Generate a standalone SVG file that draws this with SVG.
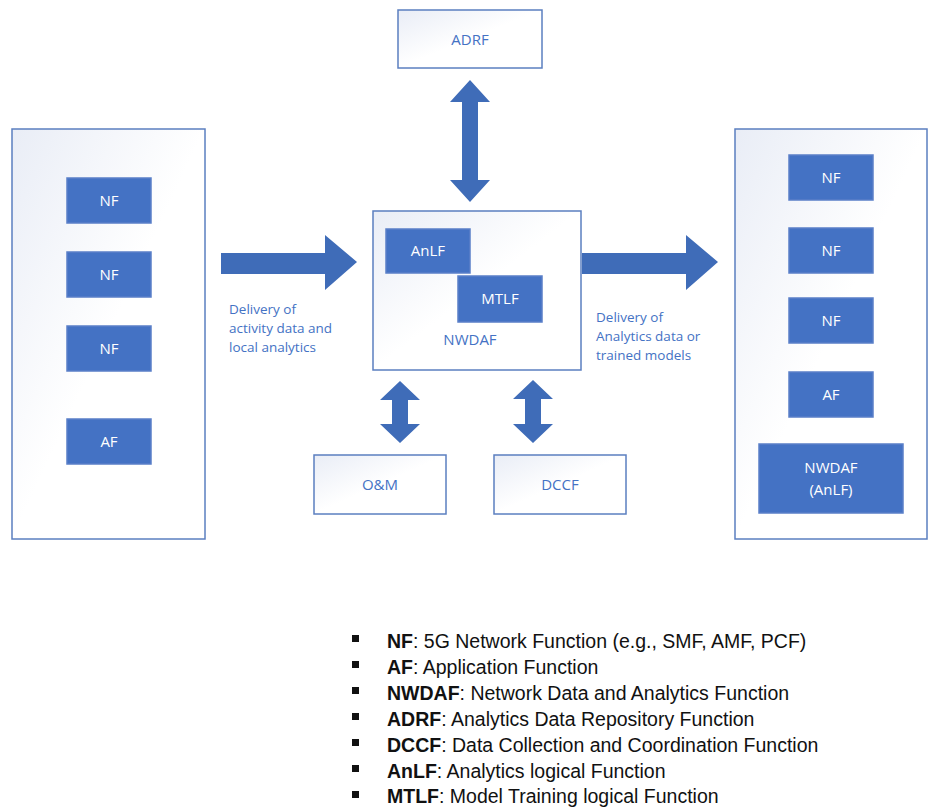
<svg xmlns="http://www.w3.org/2000/svg" width="931" height="807" viewBox="0 0 931 807">
<style>
.c{stroke:#5B7FC0;stroke-width:1.5;fill:url(#g)}
.b{fill:#4472C4;stroke:#5A7FC8;stroke-width:1.5}
.bt{font-family:"Open Sans","Liberation Sans",sans-serif;font-size:15px;fill:#fff;text-anchor:middle}
.lt{font-family:"Open Sans","Liberation Sans",sans-serif;font-size:15px;fill:#4472C4;text-anchor:middle}
.dl{font-family:"Open Sans","Liberation Sans",sans-serif;font-size:13.5px;fill:#4472C4}
.lg{font-family:"Liberation Sans",sans-serif;font-size:19.5px;fill:#111}
.ar{fill:#3F6CB8}
</style>
<defs>
<linearGradient id="g" x1="0" y1="0" x2="1" y2="1"><stop offset="0" stop-color="#E9EDF6"/><stop offset="0.5" stop-color="#FFFFFF"/><stop offset="1" stop-color="#FFFFFF"/></linearGradient>
</defs>
<rect width="931" height="807" fill="#fff"/>
<g id="left">
<rect class="c" x="12" y="129" width="193" height="410"/>
<rect class="b" x="67" y="178" width="84" height="45"/><text class="bt" x="109" y="206">NF</text>
<rect class="b" x="67" y="252" width="84" height="45"/><text class="bt" x="109" y="280">NF</text>
<rect class="b" x="67" y="326" width="84" height="45"/><text class="bt" x="109" y="354">NF</text>
<rect class="b" x="67" y="419" width="84" height="45"/><text class="bt" x="109" y="447">AF</text>
</g>
<g id="adrf"><rect class="c" x="398" y="10" width="144" height="58"/><text class="lt" x="470" y="45">ADRF</text></g>
<g id="nwdaf">
<rect class="c" x="373" y="211" width="208" height="159"/>
<rect class="b" x="386" y="229" width="84" height="44"/><text class="bt" x="428" y="256">AnLF</text>
<rect class="b" x="458" y="276" width="84" height="46"/><text class="bt" x="500" y="304">MTLF</text>
<text class="lt" x="470" y="345">NWDAF</text>
</g>
<g id="om"><rect class="c" x="314" y="455" width="132" height="59"/><text class="lt" x="380" y="490">O&amp;M</text></g>
<g id="dccf"><rect class="c" x="494" y="455" width="132" height="59"/><text class="lt" x="560" y="490">DCCF</text></g>
<g id="right">
<rect class="c" x="735" y="129" width="192" height="410"/>
<rect class="b" x="789" y="155" width="84" height="45"/><text class="bt" x="831" y="183">NF</text>
<rect class="b" x="789" y="228" width="84" height="45"/><text class="bt" x="831" y="256">NF</text>
<rect class="b" x="789" y="298" width="84" height="45"/><text class="bt" x="831" y="326">NF</text>
<rect class="b" x="789" y="372" width="84" height="45"/><text class="bt" x="831" y="400">AF</text>
<rect class="b" x="759" y="444" width="144" height="69"/><text class="bt" x="831" y="473">NWDAF</text><text class="bt" x="831" y="495">(AnLF)</text>
</g>
<g id="connectors">
<polygon class="ar" points="221,253 325,253 325,235 357,262 325,290 325,274 221,274"/>
<polygon class="ar" points="582,253 686,253 686,235 718,262 686,290 686,274 582,274"/>
<polygon class="ar" points="470,80 490,102 478,102 478,180 490,180 470,202 450,180 462,180 462,102 450,102"/>
<polygon class="ar" points="400,381 420,400 408,400 408,424 420,424 400,443 380,424 392,424 392,400 380,400"/>
<polygon class="ar" points="533,380 553,399 541,399 541,424 553,424 533,443 513,424 525,424 525,399 513,399"/>
</g>
<g id="labels">
<text class="dl" x="229" y="314">Delivery of</text><text class="dl" x="229" y="333">activity data and</text><text class="dl" x="229" y="352">local analytics</text>
<text class="dl" x="596" y="322">Delivery of</text><text class="dl" x="596" y="341">Analytics data or</text><text class="dl" x="596" y="360">trained models</text>
</g>
<g id="legend" class="lg">
<rect x="352" y="635" width="7" height="7" fill="#111"/><text x="387" y="648"><tspan font-weight="bold">NF</tspan>: 5G Network Function (e.g., SMF, AMF, PCF)</text>
<rect x="352" y="661" width="7" height="7" fill="#111"/><text x="387" y="674"><tspan font-weight="bold">AF</tspan>: Application Function</text>
<rect x="352" y="687" width="7" height="7" fill="#111"/><text x="387" y="700"><tspan font-weight="bold">NWDAF</tspan>: Network Data and Analytics Function</text>
<rect x="352" y="713" width="7" height="7" fill="#111"/><text x="387" y="726"><tspan font-weight="bold">ADRF</tspan>: Analytics Data Repository Function</text>
<rect x="352" y="739" width="7" height="7" fill="#111"/><text x="387" y="752"><tspan font-weight="bold">DCCF</tspan>: Data Collection and Coordination Function</text>
<rect x="352" y="765" width="7" height="7" fill="#111"/><text x="387" y="778"><tspan font-weight="bold">AnLF</tspan>: Analytics logical Function</text>
<rect x="352" y="791" width="7" height="7" fill="#111"/><text x="387" y="803"><tspan font-weight="bold">MTLF</tspan>: Model Training logical Function</text>
</g>
</svg>
